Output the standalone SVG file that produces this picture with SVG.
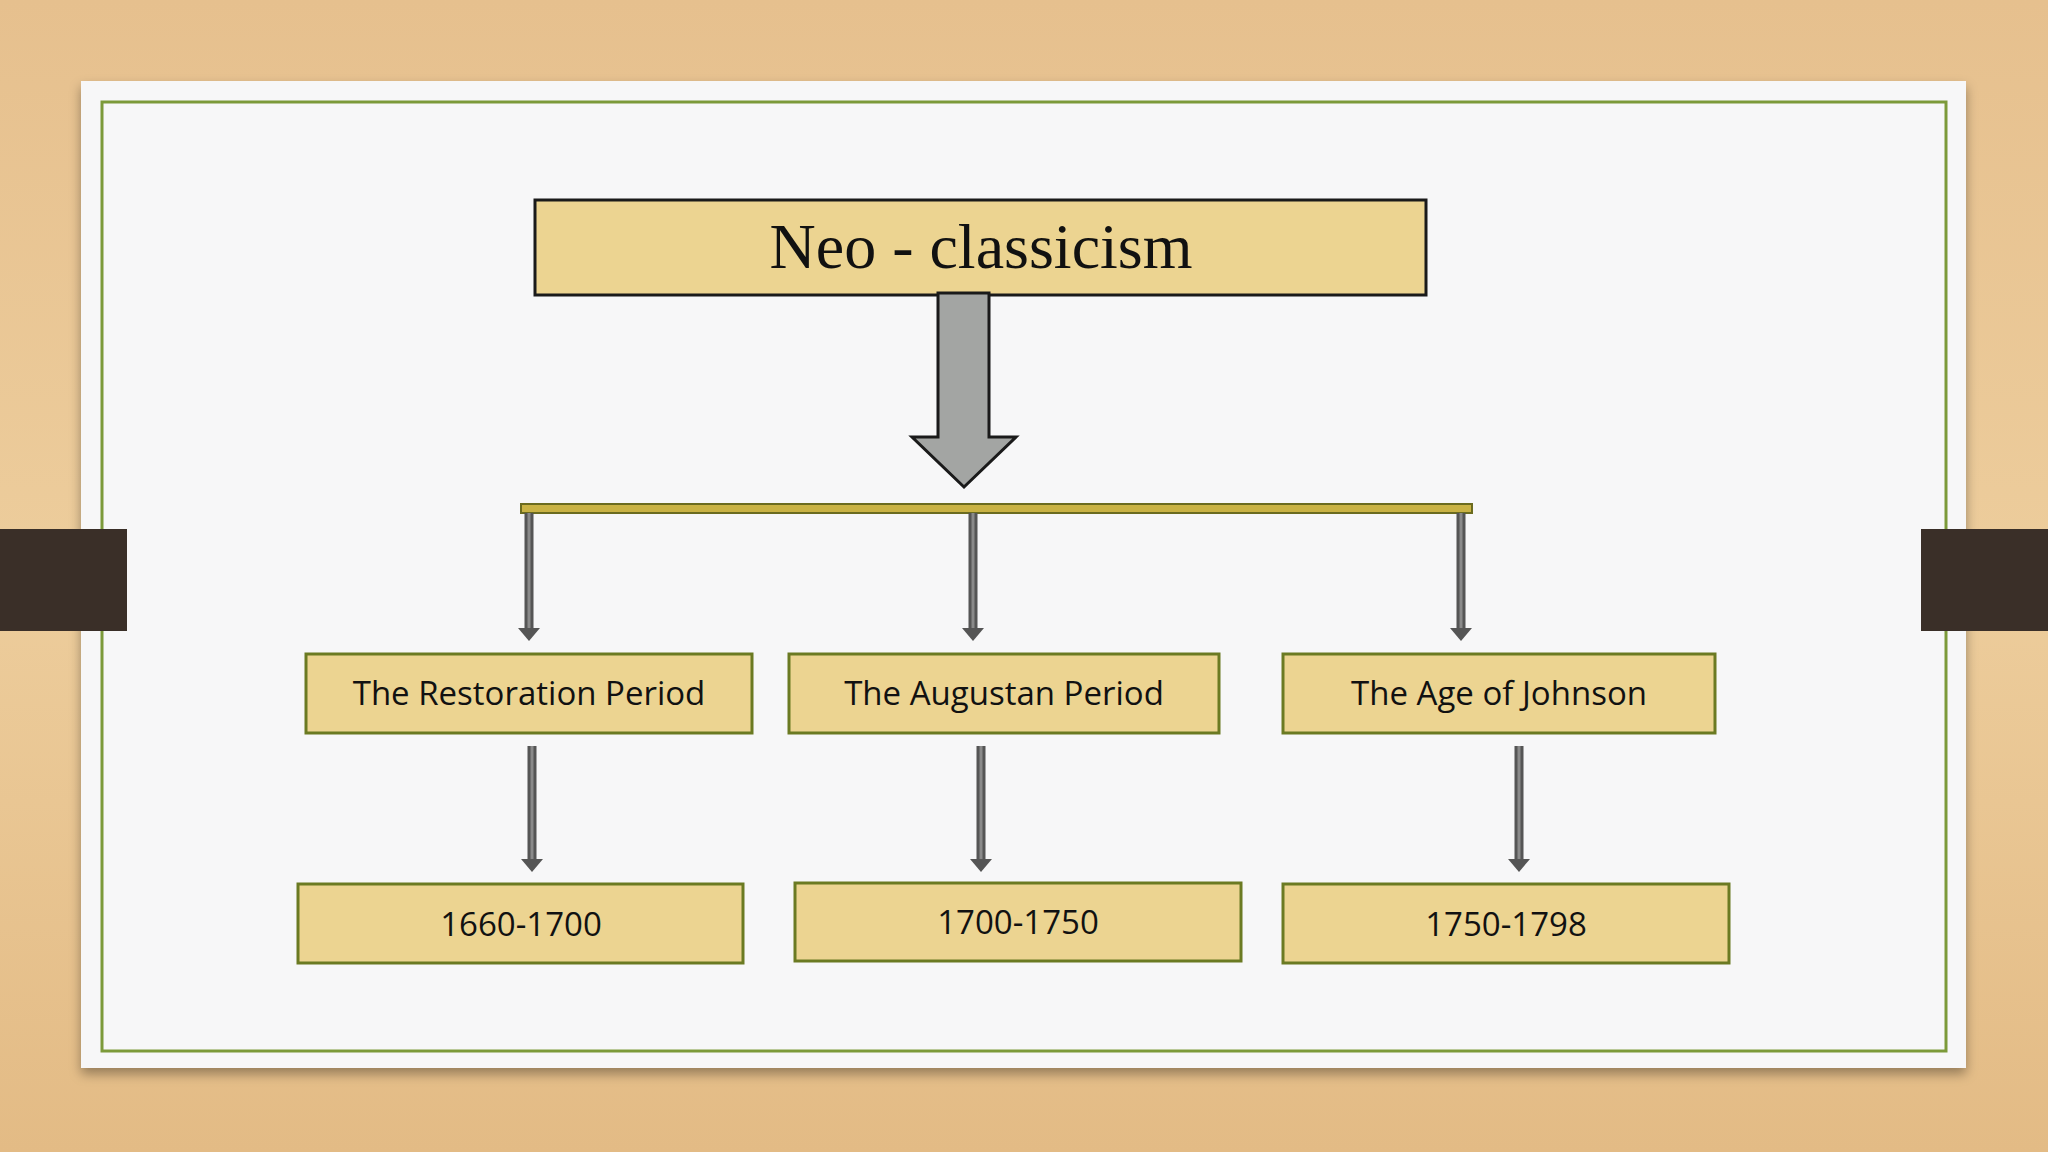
<svg xmlns="http://www.w3.org/2000/svg" width="2048" height="1152" viewBox="0 0 2048 1152">
<defs>
<linearGradient id="wood" x1="0" y1="0" x2="0" y2="1">
<stop offset="0" stop-color="#e6c08e"/><stop offset="0.5" stop-color="#edcd9c"/><stop offset="1" stop-color="#e3bb85"/>
</linearGradient>
<filter id="sh" x="-5%" y="-5%" width="110%" height="115%"><feDropShadow dx="0" dy="6" stdDeviation="6" flood-opacity="0.35"/></filter>
</defs>
<style>
.box{fill:#ecd491;stroke:#6b7a22;stroke-width:3}
.lbl{font-family:"Open Sans","Liberation Sans",sans-serif;font-size:33px;fill:#111;text-anchor:middle}
</style>
<rect width="2048" height="1152" fill="url(#wood)"/>
<rect x="81" y="81" width="1885" height="987" fill="#f7f7f8" filter="url(#sh)"/>
<rect x="102" y="102" width="1844" height="949" fill="none" stroke="#7c9a3a" stroke-width="3"/>
<rect x="0" y="529" width="127" height="102" fill="#3a2f28"/>
<rect x="1921" y="529" width="127" height="102" fill="#3a2f28"/>
<g id="title"><rect x="535" y="200" width="891" height="95" fill="#ecd491" stroke="#1a1a1a" stroke-width="3"/>
<text x="981" y="268" font-family="Liberation Serif,serif" font-size="64" fill="#111" text-anchor="middle">Neo - classicism</text></g>
<g id="connectors">
<path d="M938,293 H989 V437 H1016 L964,487 L912,437 H938 Z" fill="#a3a5a3" stroke="#1a1a1a" stroke-width="3"/>
<rect x="521" y="504" width="951" height="9" fill="#c9b244" stroke="#6b6b1f" stroke-width="2"/>
<g stroke="#555" stroke-width="9">
<line x1="529" y1="513" x2="529" y2="630"/><line x1="973" y1="513" x2="973" y2="630"/><line x1="1461" y1="513" x2="1461" y2="630"/>
<line x1="532" y1="746" x2="532" y2="861"/><line x1="981" y1="746" x2="981" y2="861"/><line x1="1519" y1="746" x2="1519" y2="861"/>
</g>
<g stroke="#8a8a8a" stroke-width="3">
<line x1="529" y1="513" x2="529" y2="630"/><line x1="973" y1="513" x2="973" y2="630"/><line x1="1461" y1="513" x2="1461" y2="630"/>
<line x1="532" y1="746" x2="532" y2="861"/><line x1="981" y1="746" x2="981" y2="861"/><line x1="1519" y1="746" x2="1519" y2="861"/>
</g>
<g fill="#555">
<path d="M518,628 L540,628 L529,641 Z"/><path d="M962,628 L984,628 L973,641 Z"/><path d="M1450,628 L1472,628 L1461,641 Z"/>
<path d="M521,859 L543,859 L532,872 Z"/><path d="M970,859 L992,859 L981,872 Z"/><path d="M1508,859 L1530,859 L1519,872 Z"/>
</g>
</g>
<g id="n1"><rect class="box" x="306" y="654" width="446" height="79"/><text class="lbl" x="529" y="705">The Restoration Period</text></g>
<g id="n2"><rect class="box" x="789" y="654" width="430" height="79"/><text class="lbl" x="1004" y="705">The Augustan Period</text></g>
<g id="n3"><rect class="box" x="1283" y="654" width="432" height="79"/><text class="lbl" x="1499" y="705">The Age of Johnson</text></g>
<g id="d1"><rect class="box" x="298" y="884" width="445" height="79"/><text class="lbl" x="521" y="936">1660-1700</text></g>
<g id="d2"><rect class="box" x="795" y="883" width="446" height="78"/><text class="lbl" x="1018" y="934">1700-1750</text></g>
<g id="d3"><rect class="box" x="1283" y="884" width="446" height="79"/><text class="lbl" x="1506" y="936">1750-1798</text></g>
</svg>
